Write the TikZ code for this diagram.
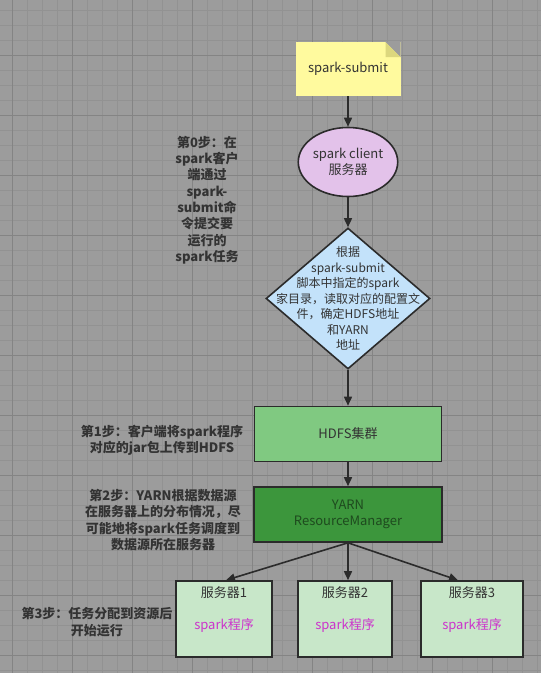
\documentclass[tikz,border=0pt]{standalone}
\usepackage{fontspec}
\setmainfont{Noto Sans CJK SC}
\usetikzlibrary{positioning}
\usetikzlibrary{shapes.geometric}
\usetikzlibrary{arrows.meta}
\definecolor{canvas}{HTML}{9C9C9C}
\definecolor{minorgrid}{HTML}{929292}
\definecolor{majorgrid}{HTML}{848484}
\definecolor{edge}{HTML}{2B2B2B}
\definecolor{ink}{HTML}{333333}
\definecolor{notefill}{HTML}{FFFA9E}
\definecolor{notefold}{HTML}{DCD77E}
\definecolor{clientfill}{HTML}{E3C2EA}
\definecolor{checkfill}{HTML}{C3E2FA}
\definecolor{hdfsfill}{HTML}{80C981}
\definecolor{yarnfill}{HTML}{3C963C}
\definecolor{yarntext}{HTML}{1E4A1E}
\definecolor{serverfill}{HTML}{C8E7C9}
\definecolor{progtext}{HTML}{CC33CC}
\tikzset{
	flow/.style={draw=edge, line width=1.6pt, text=ink, font=\fontsize{13}{16}\selectfont, align=center, inner sep=0pt},
	link/.style={draw=edge, line width=1.6pt, -{Triangle[length=9pt,width=8pt]}},
	steptext/.style={text=ink, font=\fontsize{13}{16.3}\selectfont\bfseries, align=center, inner sep=0pt},
	notebox/.style={fill=notefill, minimum width=105pt, minimum height=54pt, inner sep=0pt, text=ink, font=\fontsize{13}{16}\selectfont,
		path picture={
			\fill[canvas] ([xshift=-15pt]path picture bounding box.north east) -- (path picture bounding box.north east) -- ([yshift=-15pt]path picture bounding box.north east) -- cycle;
			\fill[notefold] ([xshift=-15pt]path picture bounding box.north east) -- ([xshift=-15pt,yshift=-15pt]path picture bounding box.north east) -- ([yshift=-15pt]path picture bounding box.north east) -- cycle;
		}},
	server/.style={flow, fill=serverfill, minimum height=76pt},
}

\begin{document}
\begin{tikzpicture}[x=1pt, y=-1pt]
	\useasboundingbox (0,0) rectangle (541,673);
	\fill[canvas] (0,0) rectangle (541,673);
	\foreach \x in {12,27,...,537} \draw[minorgrid, line width=0.6pt] (\x,0) -- (\x,673);
	\foreach \y in {10,25,...,670} \draw[minorgrid, line width=0.6pt] (0,\y) -- (541,\y);
	\foreach \x in {12,72,...,532} \draw[majorgrid, line width=0.8pt] (\x,0) -- (\x,673);
	\foreach \y in {55,115,...,655} \draw[majorgrid, line width=0.8pt] (0,\y) -- (541,\y);

	\node[notebox] (submit) at (348,69) {spark-submit};
	\node[flow, ellipse, fill=clientfill, minimum width=99pt, minimum height=69pt] (client) at (348,162) {spark client\\服务器};
	\node[flow, diamond, fill=checkfill, minimum width=164pt, minimum height=141pt] (check) at (348,298.5) {};
	\node[text=ink, font=\fontsize{12}{15.5}\selectfont, align=center, inner sep=0pt] (checktext) at (check) {根据\\spark-submit\\脚本中指定的spark\\家目录，读取对应的配置文\\件，确定HDFS地址\\和YARN\\地址};
	\node[flow, fill=hdfsfill, minimum width=187pt, minimum height=55pt] (hdfs) at (348,434) {HDFS集群};
	\node[flow, fill=yarnfill, text=yarntext, minimum width=188pt, minimum height=55pt] (yarn) at (348,514.5) {YARN\\ResourceManager};
	\foreach \i/\x/\w in {1/224/96, 2/345/94, 3/472/102} {
		\node[server, minimum width=\w pt] (srv\i) at (\x,619) {};
		\node[text=ink, font=\fontsize{13}{16}\selectfont, inner sep=0pt] (srvname\i) at ([yshift=-12pt]srv\i.north) {服务器\i};
		\node[text=progtext, font=\fontsize{13}{16}\selectfont, inner sep=0pt] (srvprog\i) at ([yshift=-6pt]srv\i.center) {spark程序};
	}

	\draw[link] (submit) -- (client);
	\draw[link] (client) -- (check);
	\draw[link] (check) -- (hdfs);
	\draw[link] (hdfs) -- (yarn);
	\draw[link] (yarn.south) -- ([xshift=2pt]srv1.north);
	\draw[link] (yarn.south) -- ([xshift=3pt]srv2.north);
	\draw[link] (yarn.south) -- ([xshift=-14pt]srv3.north);

	\node[steptext] (step0) at (207,200) {第0步：在\\spark客户\\端通过\\spark-\\submit命\\令提交要\\运行的\\spark任务};
	\node[steptext] (step1) at (162,440) {第1步：客户端将spark程序\\对应的jar包上传到HDFS};
	\node[steptext] (step2) at (163,520) {第2步：YARN根据数据源\\在服务器上的分布情况，尽\\可能地将spark任务调度到\\数据源所在服务器};
	\node[steptext] (step3) at (97,622) {第3步：任务分配到资源后\\[1.5pt]开始运行};
\end{tikzpicture}
\end{document}
